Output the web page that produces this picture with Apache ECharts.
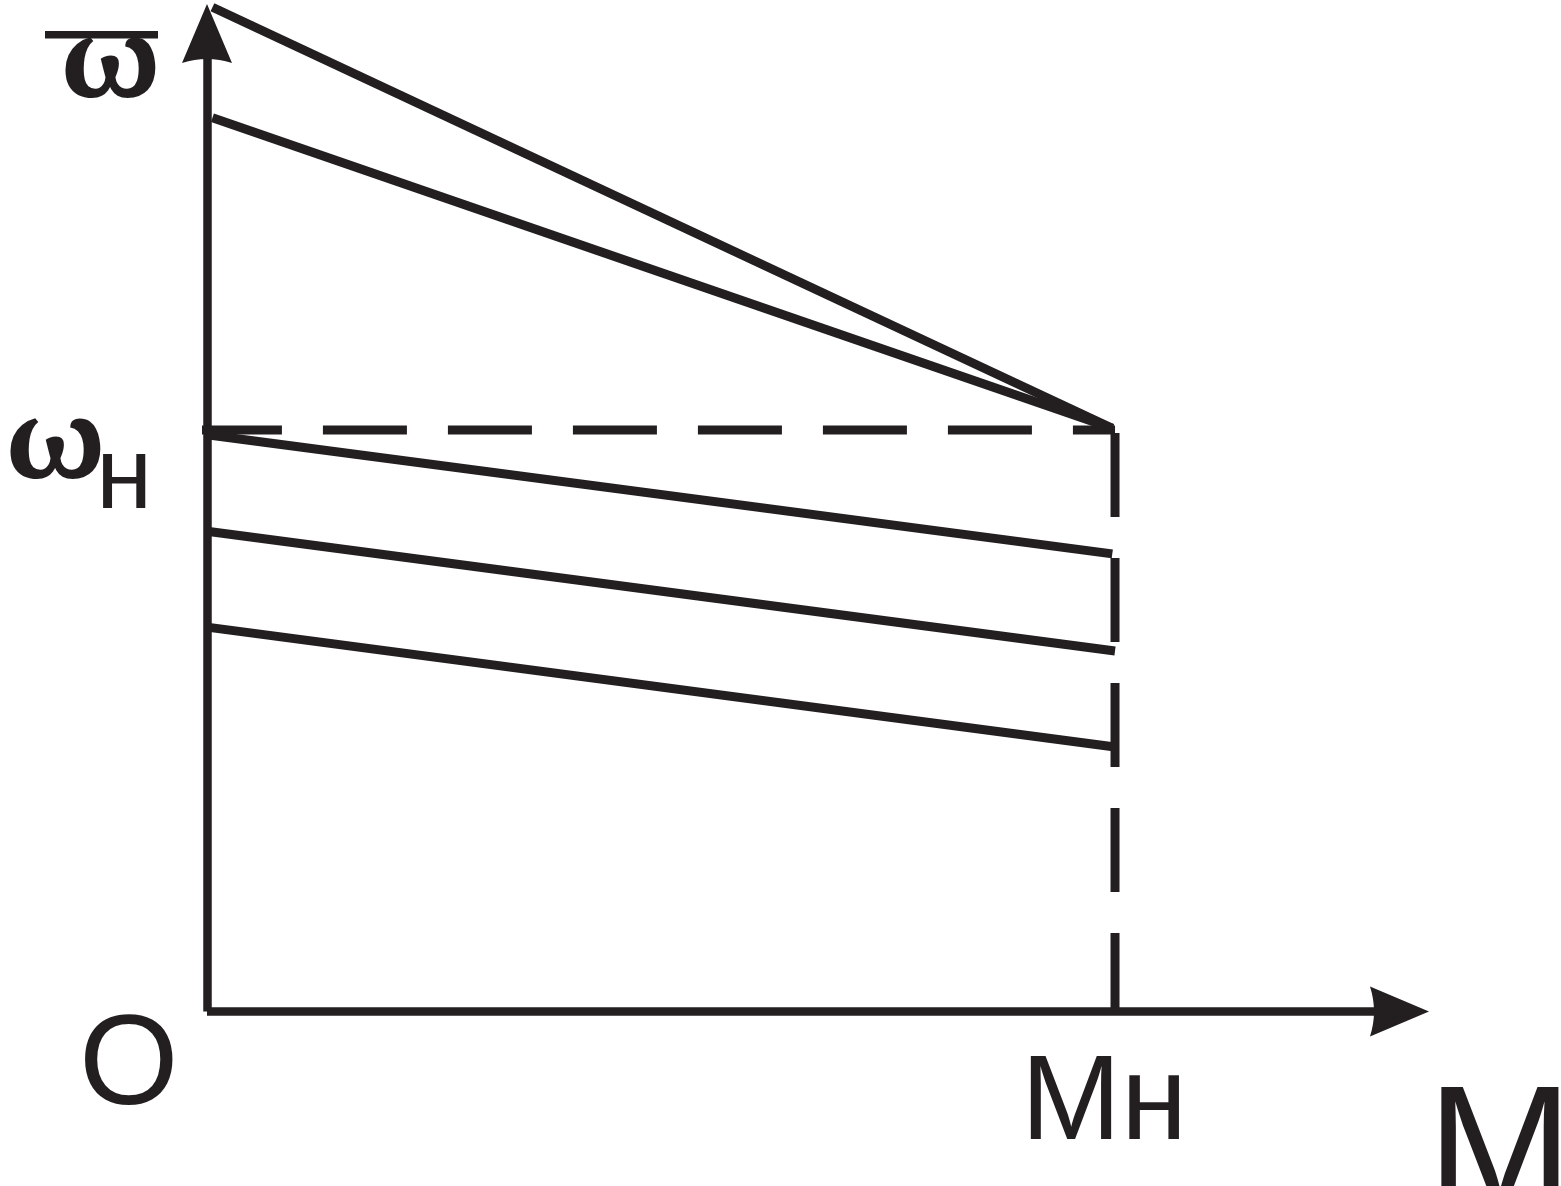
<!DOCTYPE html>
<html>
<head>
<meta charset="utf-8">
<script src="https://cdn.jsdelivr.net/npm/echarts@6/dist/echarts.min.js"></script>
<style>
html,body{margin:0;padding:0;background:#fff;}
#chart{width:1561px;height:1186px;}
</style>
</head>
<body>
<div id="chart"></div>
<script>
// Values: x in units of rated torque Mн, y in units of rated speed ωн
const speedLine1 = [[0.006, 1.727], [0.997, 1.003]];
const speedLine2 = [[0.006, 1.537], [0.997, 1.003]];
const speedLine3 = [[0, 0.992], [0.997, 0.787]];
const speedLine4 = [[0, 0.826], [1, 0.620]];
const speedLine5 = [[0, 0.661], [1, 0.455]];
const ratedSpeedDash = [[-0.01, 1], [1, 1]];
const ratedTorqueDash = [[1, 0.995], [1, 0]];
const xAxisMax = 1.3133;
const yAxisMax = 1.6819;
const labelIdealSpeed = 'ω';
const labelRatedSpeed = 'ω';
const labelRatedSpeedSub = 'н';
const labelOrigin = 'O';
const labelRatedTorque = 'Mн';
const labelTorque = 'M';

const INK = '#231f20';
const arrowPath = 'path://M25,0 L50,59 Q25,51 0,59 Z';

const chart = echarts.init(document.getElementById('chart'), null, {renderer: 'canvas'});

function solid(data) {
  return {
    type: 'line', data: data, symbol: 'none', clip: false, silent: true,
    lineStyle: {color: INK, width: 9, cap: 'butt'}
  };
}
function dashed(data) {
  return {
    type: 'line', data: data, symbol: 'none', clip: false, silent: true,
    lineStyle: {color: INK, width: 9, type: [84, 41], cap: 'butt'}
  };
}

const axisCommon = {
  type: 'value', min: 0,
  axisTick: {show: false}, axisLabel: {show: false}, splitLine: {show: false},
  axisLine: {show: true, onZero: false, symbol: ['none', arrowPath], symbolSize: [50, 59],
    lineStyle: {color: INK, width: 8.5, cap: 'butt'}}
};

function txt(text, x, y, size, family, weight, sx) {
  return {
    type: 'text', x: x, y: y, scaleX: sx || 1, silent: true,
    style: {text: text, fill: INK, fontSize: size, fontFamily: family, fontWeight: weight || 'normal',
      align: 'left', verticalAlign: 'middle', textAlign: 'left', textVerticalAlign: 'middle'}
  };
}

chart.setOption({
  animation: false,
  backgroundColor: '#ffffff',
  grid: {left: 207, top: 33.5, right: 161.5, bottom: 174.5, containLabel: false},
  xAxis: Object.assign({}, axisCommon, {max: xAxisMax}),
  yAxis: Object.assign({}, axisCommon, {max: yAxisMax}),
  series: [
    dashed(ratedSpeedDash),
    dashed(ratedTorqueDash),
    solid(speedLine1),
    solid(speedLine2),
    solid(speedLine3),
    solid(speedLine4),
    solid(speedLine5)
  ],
  graphic: [
    {type: 'rect', silent: true, shape: {x: 45, y: 31, width: 113, height: 7.5}, style: {fill: INK}},
    txt(labelIdealSpeed, 59, 65.5, 110, 'Noto Serif', 'bold', 1.13),
    txt(labelRatedSpeed, 4, 446.5, 110, 'Noto Serif', 'bold', 1.13),
    txt(labelRatedSpeedSub, 96, 479.5, 102, 'Liberation Sans'),
    txt(labelOrigin, 79, 1068.5, 128, 'Liberation Sans'),
    txt(labelRatedTorque, 1021, 1106, 120, 'Liberation Sans'),
    txt(labelTorque, 1427, 1159, 175, 'Liberation Sans')
  ]
});
</script>
</body>
</html>
